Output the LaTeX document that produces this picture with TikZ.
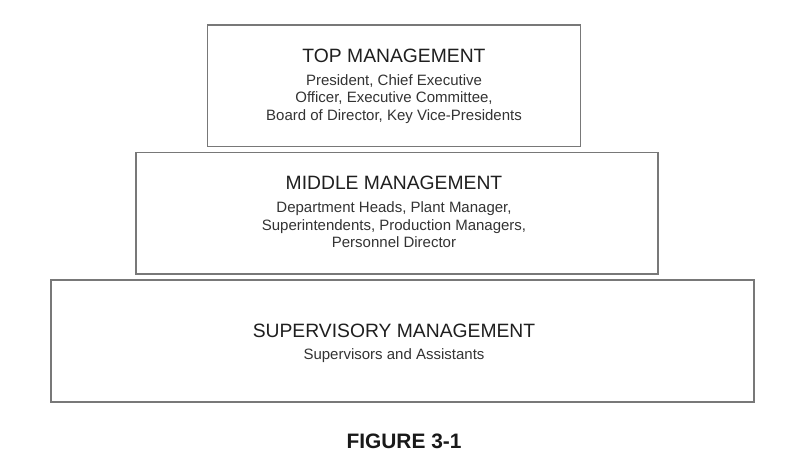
\documentclass[tikz,border=0pt]{standalone}
\usepackage{fontspec}
\setmainfont{Liberation Sans}
\usepackage{tikz}
\usetikzlibrary{positioning}
\definecolor{boxgray}{RGB}{120,120,120}
\tikzstyle{Level} = [rectangle,
                     draw=boxgray,
                     line width=1.1pt,
                     inner sep=0pt,
                     fill=white]
\tikzstyle{Level_Title} = [inner sep=0pt,
                           anchor=base,
                           text=black!88,
                           font=\fontsize{19.3}{22}\selectfont]
\tikzstyle{Level_Text} = [inner sep=0pt,
                          anchor=base,
                          align=center,
                          text=black!80,
                          font=\fontsize{15}{17.5}\selectfont]

\begin{document}
\begin{tikzpicture}[x=1pt, y=-1pt]
        \useasboundingbox (0,0) rectangle (802,461);

        \node (Top) [Level, minimum width=373pt, minimum height=121.5pt] at (394,85.75) {};
        \node (Middle) [Level, minimum width=522pt, minimum height=121.5pt] at (397,213.25) {};
        \node (Supervisory) [Level, minimum width=703pt, minimum height=122pt] at (402.5,341) {};

        % base anchor of the text nodes is the last line
        \node (Top_T) [Level_Title] at (394,62) {TOP MANAGEMENT};
        \node (Top_D) [Level_Text] at (394,120) {President, Chief Executive\\Officer, Executive Committee,\\Board of Director, Key Vice-Presidents};

        \node (Middle_T) [Level_Title] at (394,189) {MIDDLE MANAGEMENT};
        \node (Middle_D) [Level_Text] at (394,247.7) {Department Heads, Plant Manager,\\Superintendents, Production Managers,\\Personnel Director};

        \node (Supervisory_T) [Level_Title] at (394,337) {SUPERVISORY MANAGEMENT};
        \node (Supervisory_D) [Level_Text] at (394,359.3) {Supervisors and Assistants};

        \node (Figure) [anchor=base, inner sep=0pt, text=black!90, font=\fontsize{20.9}{24}\selectfont\bfseries] at (404,448) {FIGURE 3-1};
    \end{tikzpicture}
\end{document}
